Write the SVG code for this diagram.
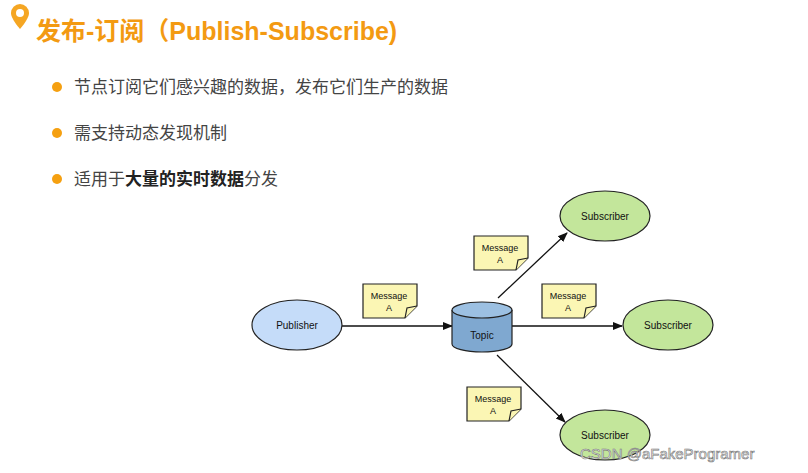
<svg xmlns="http://www.w3.org/2000/svg" width="808" height="473" viewBox="0 0 808 473">
<defs>
<style>
.t{font-family:"Liberation Sans","Noto Sans CJK SC",sans-serif}
.b{font-size:17px;fill:#444}
.n{font-size:10px;fill:#111}
.m{font-size:9px;fill:#111}
.e{stroke:#222;stroke-width:1.2}
.note{fill:#fbf6b4;stroke:#222;stroke-width:1.2}
.c{stroke:#111;stroke-width:1.3;fill:none;marker-end:url(#a)}
</style>
<marker id="a" markerWidth="10" markerHeight="10" refX="9" refY="5" orient="auto" markerUnits="userSpaceOnUse"><path d="M0,1 L10,5 L0,9 Z" fill="#111"/></marker>
<symbol id="note" overflow="visible"><path class="note" d="M0,0 H54 V22 L42,34 H0 Z"/><path class="note" d="M42,34 L44,24 L54,22"/><text class="t m" x="26" y="15" text-anchor="middle">Message</text><text class="t m" x="26" y="27" text-anchor="middle">A</text></symbol>
</defs>
<rect width="808" height="473" fill="#fff"/>
<g id="title">
<path d="M20,4 a9,9 0 0 1 9,9 c0,6 -9,16 -9,16 c0,0 -9,-10 -9,-16 a9,9 0 0 1 9,-9 Z" fill="#f5a623"/>
<circle cx="20" cy="13" r="4" fill="#fff"/>
<text class="t" x="36" y="40" font-size="25" font-weight="bold" fill="#f39a12">发布-订阅（Publish-Subscribe)</text>
</g>
<g id="bullets">
<circle cx="57" cy="87" r="5" fill="#f5a011"/><text class="t b" x="74" y="93">节点订阅它们感兴趣的数据，发布它们生产的数据</text>
<circle cx="57" cy="133" r="5" fill="#f5a011"/><text class="t b" x="74" y="139">需支持动态发现机制</text>
<circle cx="57" cy="179" r="5" fill="#f5a011"/><text class="t b" x="74" y="185">适用于<tspan font-weight="bold" fill="#222">大量的实时数据</tspan>分发</text>
</g>
<g id="connectors">
<path class="c" d="M342,326 H452"/>
<path class="c" d="M498,298 L567,233"/>
<path class="c" d="M512,326 H622"/>
<path class="c" d="M497,355 L565,422"/>
</g>
<g id="publisher"><ellipse class="e" cx="297" cy="325" rx="45" ry="25" fill="#c5dcf9"/><text class="t n" x="297" y="329" text-anchor="middle">Publisher</text></g>
<g id="topic">
<path class="e" d="M452,310 V344 A30,8 0 0 0 512,344 V310" fill="#7fa8d0"/>
<ellipse class="e" cx="482" cy="310" rx="30" ry="8" fill="#9cc0e2"/>
<text class="t n" x="482" y="339" text-anchor="middle">Topic</text>
</g>
<g id="sub1"><ellipse class="e" cx="605" cy="216" rx="45" ry="25" fill="#c3e69b"/><text class="t n" x="605" y="220" text-anchor="middle">Subscriber</text></g>
<g id="sub2"><ellipse class="e" cx="668" cy="325" rx="45" ry="25" fill="#c3e69b"/><text class="t n" x="668" y="329" text-anchor="middle">Subscriber</text></g>
<g id="sub3"><ellipse class="e" cx="605" cy="435" rx="45" ry="25" fill="#c3e69b"/><text class="t n" x="605" y="439" text-anchor="middle">Subscriber</text></g>
<g id="notes">
<use href="#note" x="363" y="284"/>
<use href="#note" x="474" y="236"/>
<use href="#note" x="542" y="284"/>
<use href="#note" x="467" y="387"/>
</g>
<text class="t" x="580" y="459" font-size="15" fill="#f4f4f4" stroke="#777" stroke-width="0.6">CSDN @aFakeProgramer</text>
</svg>
